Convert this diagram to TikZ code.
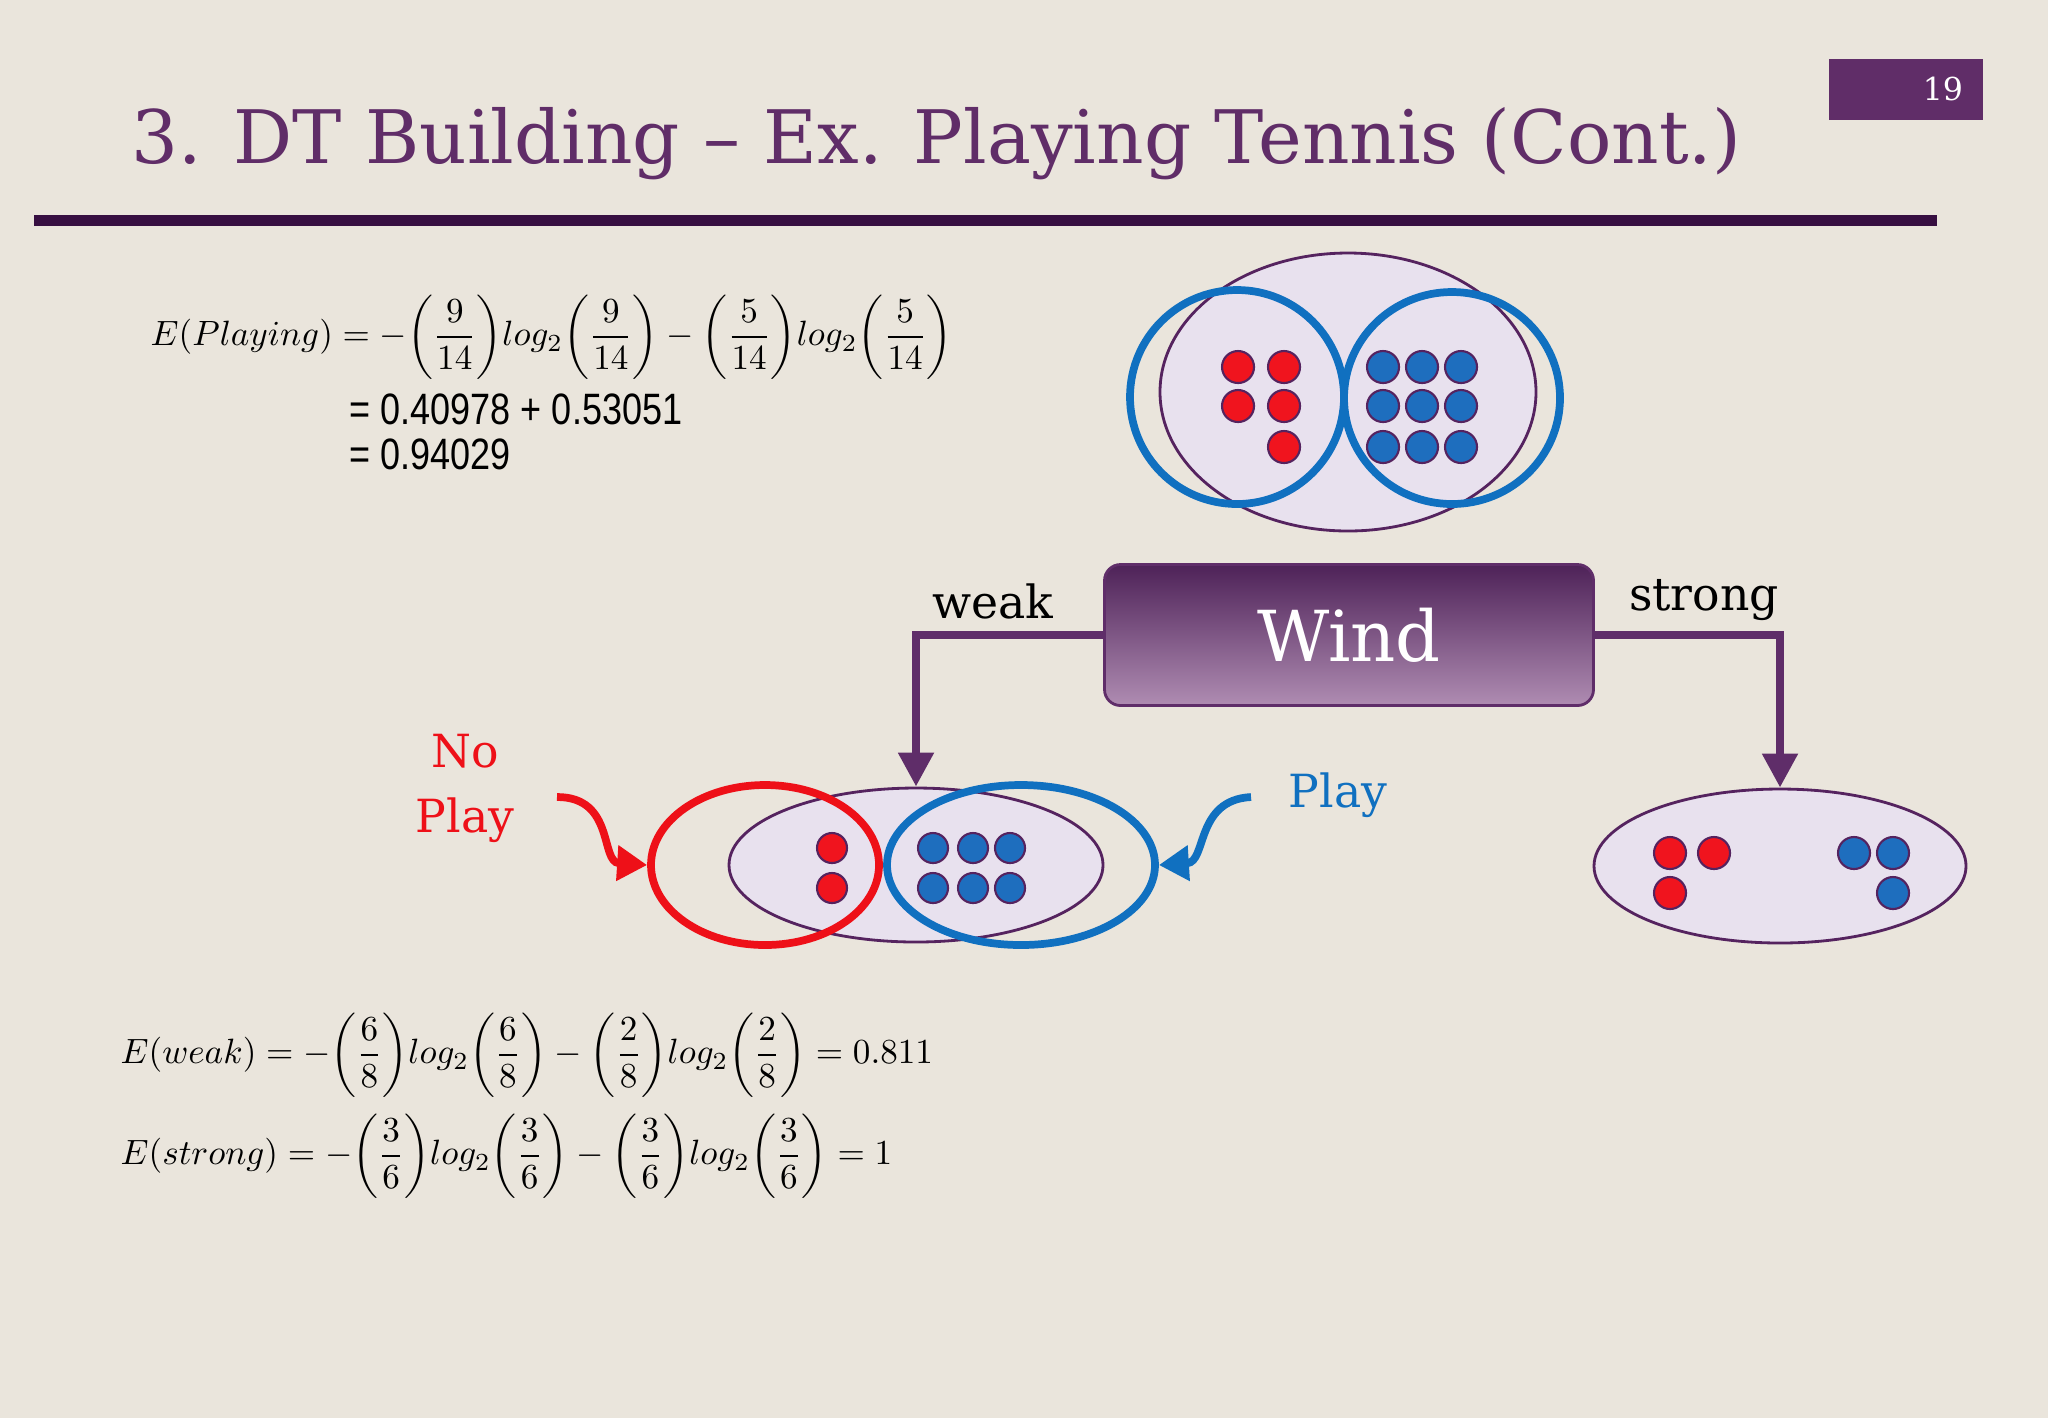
\documentclass[tikz,border=0pt]{standalone}
\usepackage{amsmath}
\usepackage{fontspec}
\usepackage{tikz}
\usetikzlibrary{arrows.meta,shapes.geometric,positioning}
\newfontfamily\slabfont{DejaVu Serif}
\newfontfamily\narrowsans[FakeStretch=0.82]{Liberation Sans}
\definecolor{paper}{RGB}{234,229,220}
\definecolor{titlepurple}{RGB}{96,45,104}
\definecolor{rulepurple}{RGB}{55,15,65}
\definecolor{branchpurple}{RGB}{95,45,105}
\definecolor{setlav}{RGB}{232,225,238}
\definecolor{setline}{RGB}{85,35,95}
\definecolor{ringblue}{RGB}{16,112,192}
\definecolor{ringred}{RGB}{238,16,24}
\definecolor{dotred}{RGB}{240,20,30}
\definecolor{dotblue}{RGB}{30,110,190}
\definecolor{windtop}{RGB}{78,34,88}
\definecolor{windbot}{RGB}{175,140,178}

\begin{document}
\begin{tikzpicture}[x=0.1mm,y=-0.1mm,
  setnode/.style={ellipse,draw=setline,line width=0.8pt,fill=setlav,inner sep=0pt},
  ring/.style={ellipse,draw=#1,line width=2.2pt,inner sep=0pt},
  dot/.style={fill=#1,draw=setline,line width=0.6pt},
  branch/.style={draw=branchpurple,line width=2.3pt,-{Triangle[length=3.4mm,width=3.4mm]}},
  curly/.style={draw=#1,line width=2.2pt,-{Triangle[length=3mm,width=3.4mm]}},
  lbl/.style={font=\slabfont\fontsize{13pt}{18.5pt}\selectfont,inner sep=0pt},
  eqn/.style={font=\fontsize{9.8pt}{12pt}\selectfont,anchor=west,inner sep=0pt},
  numline/.style={font=\narrowsans\fontsize{12.5pt}{14pt}\selectfont,anchor=base west,inner sep=0pt},
  windbox/.style={rounded corners=1.6mm,draw=branchpurple,line width=0.8pt,top color=windtop,bottom color=windbot,
    minimum width=48.9mm,minimum height=14.1mm,text=white,font=\slabfont\fontsize{20pt}{22pt}\selectfont}]
  \fill[paper] (0,0) rectangle (2048,1418);
  \node[font=\slabfont\fontsize{21pt}{24pt}\selectfont,text=titlepurple,anchor=base west,inner sep=0pt] (title) at (131,163) {3. DT Building – Ex. Playing Tennis (Cont.)};
  \fill[rulepurple] (34,215) rectangle (1937,226);
  \node[fill=titlepurple,minimum width=15.4mm,minimum height=6.1mm,inner sep=0pt] (pagebox) at (1906,89) {};
  \node[text=white,font=\slabfont\fontsize{9pt}{11pt}\selectfont,anchor=east,inner sep=0pt] (pagenum) at ([xshift=-2mm]pagebox.east) {19};

  \node[eqn] (eplay) at (150,337) {$\displaystyle E(Playing)=-{\left(\frac{9}{14}\right)}log_2{\left(\frac{9}{14}\right)}-{\left(\frac{5}{14}\right)}log_2{\left(\frac{5}{14}\right)}$};
  \node[numline] (sumline) at (349,424) {= 0.40978 + 0.53051};
  \node[numline] (totline) at (349,469) {= 0.94029};

  \node[setnode,minimum width=37.6mm,minimum height=27.8mm] (allset) at (1348,392) {};
  \foreach \x/\y in {1238/367,1284/367,1238/406,1284/406,1284/447}
    \filldraw[dot=dotred] (\x,\y) circle (1.6mm);
  \foreach \x in {1383,1422,1461}
    \foreach \y in {367,406,447}
      \filldraw[dot=dotblue] (\x,\y) circle (1.6mm);
  \node[ring=ringblue,minimum width=21.4mm,minimum height=21.4mm] (noring) at (1237,397) {};
  \node[ring=ringblue,minimum width=21.6mm,minimum height=21.2mm] (yesring) at (1452,398) {};

  \node[windbox] (wind) at (1349,635) {Wind};
  \node[setnode,minimum width=37.4mm,minimum height=15.4mm] (weakset) at (916,865) {};
  \node[setnode,minimum width=37.2mm,minimum height=15.4mm] (strongset) at (1780,866) {};
  \draw[branch] (wind.west) -| (weakset.north);
  \draw[branch] (wind.east) -| (strongset.north);
  \node[lbl,anchor=base] (weaklbl) at (993,618) {weak};
  \node[lbl,anchor=base] (stronglbl) at (1704,610) {strong};

  \foreach \y in {848,888}
    \filldraw[dot=dotred] (832,\y) circle (1.5mm);
  \foreach \x in {933,973,1010}
    \foreach \y in {848,888}
      \filldraw[dot=dotblue] (\x,\y) circle (1.5mm);
  \node[ring=ringred,minimum width=22.8mm,minimum height=16mm] (redring) at (765,865) {};
  \node[ring=ringblue,minimum width=26.8mm,minimum height=16mm] (bluering) at (1021,865) {};

  \foreach \x/\y in {1670/853,1714/853,1670/893}
    \filldraw[dot=dotred] (\x,\y) circle (1.6mm);
  \foreach \x/\y in {1854/853,1893/853,1893/893}
    \filldraw[dot=dotblue] (\x,\y) circle (1.6mm);

  \node[lbl,text=ringred,align=center] (noplay) at (465,788) {No\\Play};
  \node[lbl,text=ringblue,anchor=base] (play) at (1338,807) {Play};
  \coordinate (notail) at (557,797);
  \coordinate (playtail) at (1251,797);
  \draw[curly=ringred] (notail) .. controls (615,797) and (600,862) .. (redring.west);
  \draw[curly=ringblue] (playtail) .. controls (1195,800) and (1207,862) .. (bluering.east);

  \node[eqn] (eweak) at (120,1055) {$\displaystyle E(weak)=-{\left(\frac{6}{8}\right)}log_2{\left(\frac{6}{8}\right)}-{\left(\frac{2}{8}\right)}log_2{\left(\frac{2}{8}\right)}=0.811$};
  \node[eqn] (estrong) at (120,1156) {$\displaystyle E(strong)=-{\left(\frac{3}{6}\right)}log_2{\left(\frac{3}{6}\right)}-{\left(\frac{3}{6}\right)}log_2{\left(\frac{3}{6}\right)}=1$};
\end{tikzpicture}
\end{document}
